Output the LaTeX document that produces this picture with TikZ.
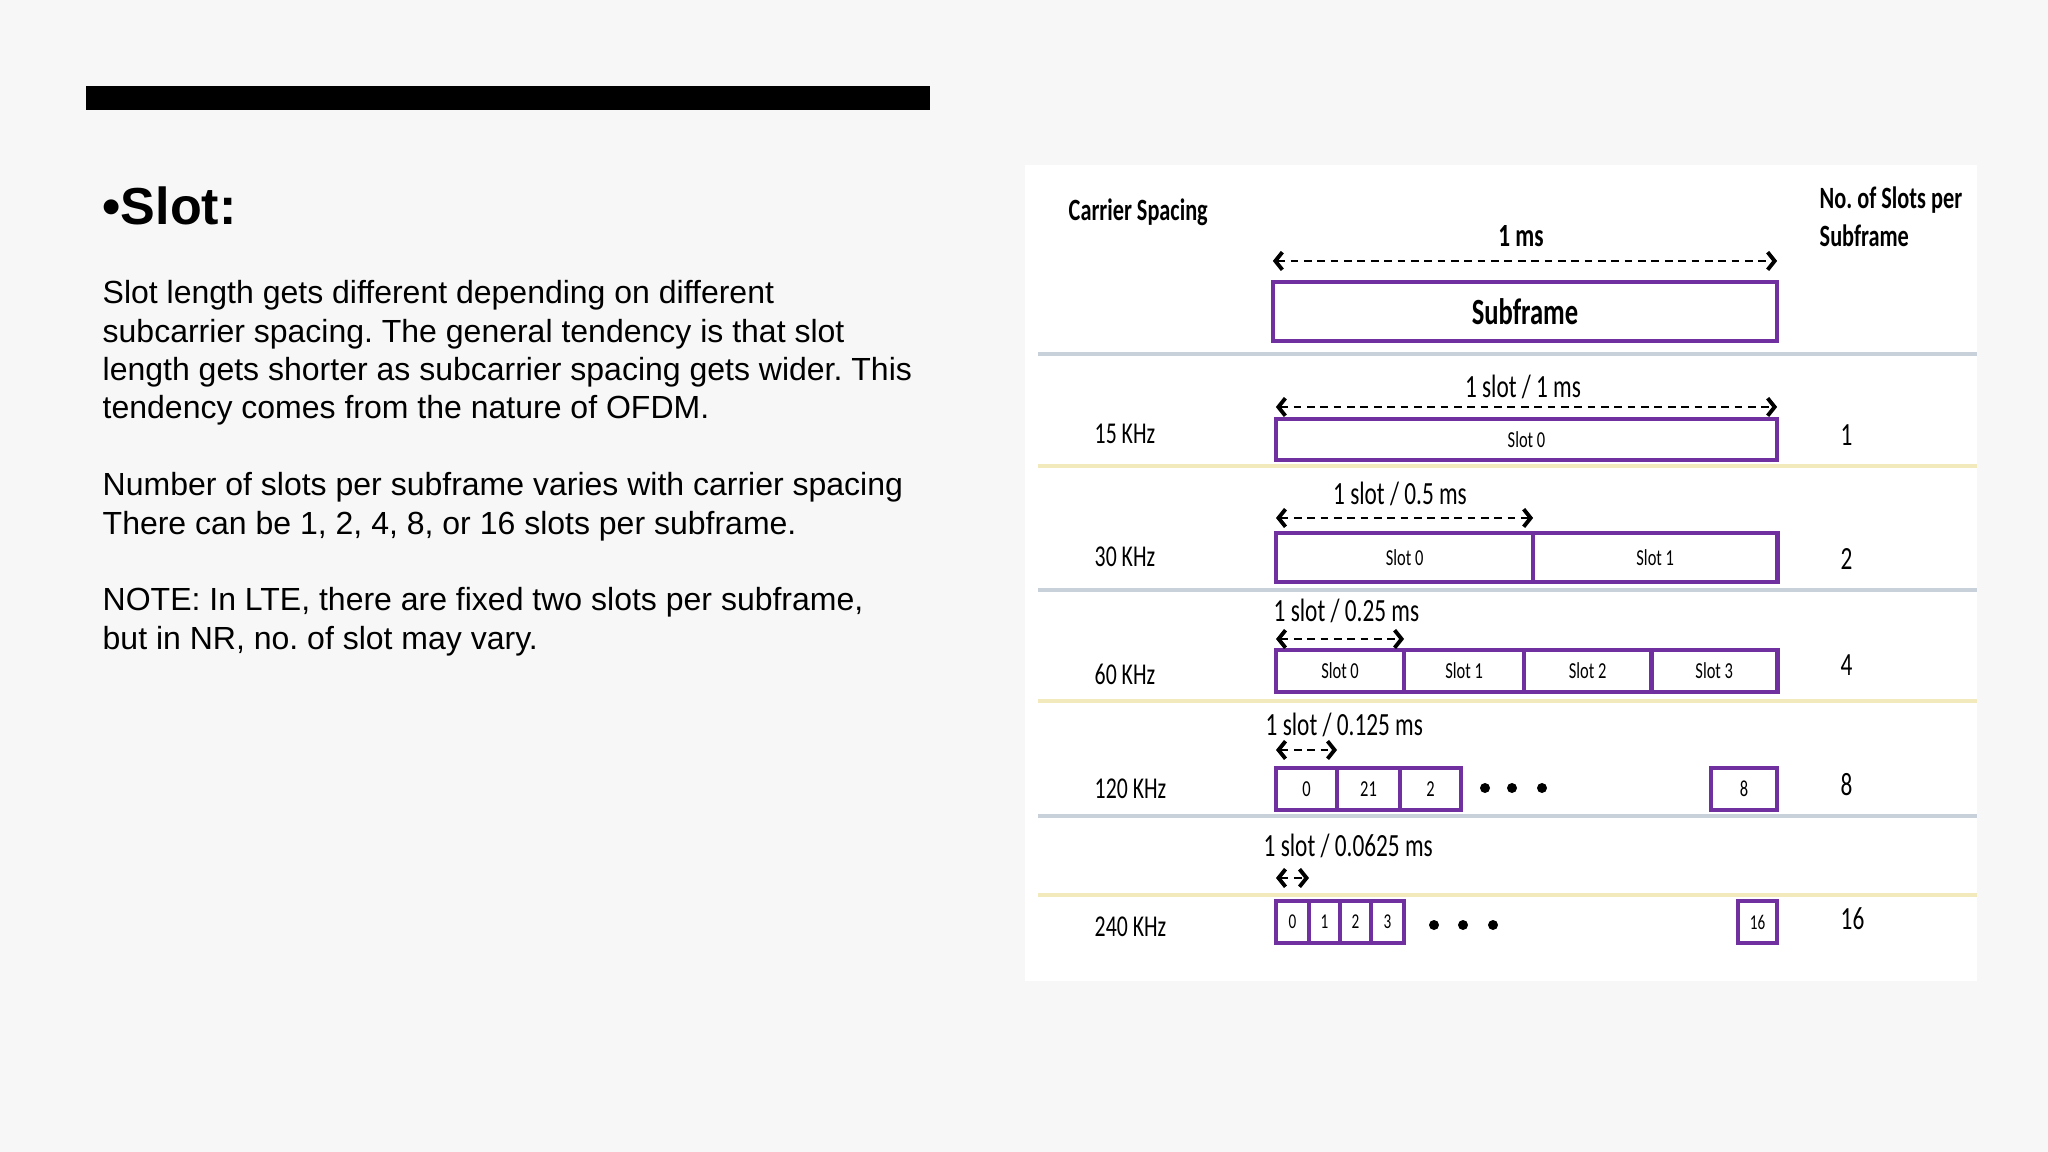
\documentclass[tikz,border=0pt]{standalone}
\usepackage{fontspec}
\setmainfont{Liberation Sans}
\newfontfamily\narrowfont[FakeStretch=0.72]{Carlito}
\usetikzlibrary{positioning, arrows.meta}
\frenchspacing

\definecolor{slidebg}{HTML}{F7F7F7}
\definecolor{slotpurple}{HTML}{7030A0}
\definecolor{rulegray}{HTML}{C8D0DA}
\definecolor{ruleyellow}{HTML}{F2E9BC}

\begin{document}
\begin{tikzpicture}[
        x=0.01cm, y=-0.01cm,
        node distance=0pt,
        slotbox/.style={draw=slotpurple, line width=1.3pt, fill=white, inner sep=0pt, outer sep=0pt, minimum height=0.42cm, font=\narrowfont\fontsize{6.5}{7}\selectfont},
        slotspan/.style={dashed, dash pattern=on 2.2pt off 1.6pt, line width=0.8pt, {Straight Barb[length=2pt,width=5pt,line width=1.1pt]}-{Straight Barb[length=2pt,width=5pt,line width=1.1pt]}},
        spanlabel/.style={inner sep=0pt, font=\narrowfont\fontsize{9.2}{10}\selectfont},
        rowlabel/.style={anchor=west, inner sep=0pt, font=\narrowfont\fontsize{8.6}{10}\selectfont},
        countlabel/.style={anchor=west, inner sep=0pt, font=\narrowfont\fontsize{9.2}{10}\selectfont},
        bodytext/.style={anchor=north west, inner sep=0pt, align=left, font=\fontsize{9.1}{10.9}\selectfont}
        ]
        % Slide
        \fill[slidebg] (0,0) rectangle (2048,1152);
        \fill[black] (86,86) rectangle (930,110);
        \node (title) [anchor=base west, inner sep=0pt, font=\bfseries\fontsize{14.8}{18}\selectfont] at (102,225) {•Slot:};
        \node (para1) [bodytext] at (102,280) {Slot length gets different depending on different\\subcarrier spacing. The general tendency is that slot\\length gets shorter as subcarrier spacing gets wider. This\\tendency comes from the nature of OFDM.};
        \node (para2) [bodytext] at (102,472) {Number of slots per subframe varies with carrier spacing\\There can be 1, 2, 4, 8, or 16 slots per subframe.};
        \node (para3) [bodytext] at (102,587) {NOTE: In LTE, there are fixed two slots per subframe,\\but in NR, no. of slot may vary.};

        % Panel and rules
        \fill[white] (1025,165) rectangle (1977,981);
        \draw[rulegray, line width=1pt] (1038,354) -- (1977,354);
        \draw[ruleyellow, line width=1pt] (1038,466) -- (1977,466);
        \draw[rulegray, line width=1pt] (1038,590) -- (1977,590);
        \draw[ruleyellow, line width=1pt] (1038,701) -- (1977,701);
        \draw[rulegray, line width=1pt] (1038,816) -- (1977,816);
        \draw[ruleyellow, line width=1pt] (1038,895) -- (1977,895);

        % Headings
        \node (cshead) [anchor=west, inner sep=0pt, font=\narrowfont\bfseries\fontsize{8.8}{10}\selectfont] at (1068,212) {Carrier Spacing};
        \node (nohead) [anchor=west, inner sep=0pt, align=left, font=\narrowfont\bfseries\fontsize{8.8}{10.8}\selectfont] at (1819,217) {No. of Slots per\\Subframe};

        % Subframe
        \node (subframe) [slotbox, minimum width=5.04cm, minimum height=0.59cm, font=\narrowfont\bfseries\fontsize{10.5}{12}\selectfont] at (1525,311.5) {Subframe};
        \node (ms) [spanlabel, font=\narrowfont\bfseries\fontsize{9.2}{10}\selectfont] at (1521,236) {1 ms};

        % 15 KHz
        \node (khz15) [rowlabel] at (1094,434) {15 KHz};
        \node (s15a) [slotbox, minimum width=5.01cm, minimum height=0.41cm] at (1526.5,439.5) {Slot 0};
        \node (span15) [spanlabel] at (1523,387) {1 slot / 1 ms};
        \node (n15) [countlabel] at (1840,435) {1};

        % 30 KHz
        \node (khz30) [rowlabel] at (1094,557) {30 KHz};
        \node (s30a) [slotbox, anchor=west, minimum width=2.57cm, minimum height=0.49cm] at (1276,557.5) {Slot 0};
        \node (s30b) [slotbox, minimum width=2.44cm, minimum height=0.49cm, right=of s30a] {Slot 1};
        \node (span30) [spanlabel] at (1400,494) {1 slot / 0.5 ms};
        \node (n30) [countlabel] at (1840,559) {2};

        % 60 KHz
        \node (khz60) [rowlabel] at (1094,674) {60 KHz};
        \node (s60a) [slotbox, anchor=west, minimum width=1.28cm] at (1276,671) {Slot 0};
        \node (s60b) [slotbox, minimum width=1.20cm, right=of s60a] {Slot 1};
        \node (s60c) [slotbox, minimum width=1.27cm, right=of s60b] {Slot 2};
        \node (s60d) [slotbox, minimum width=1.26cm, right=of s60c] {Slot 3};
        \node (span60) [spanlabel, anchor=west] at (1273,611) {1 slot / 0.25 ms};
        \node (n60) [countlabel] at (1840,665) {4};

        % 120 KHz
        \node (khz120) [rowlabel] at (1094,789) {120 KHz};
        \node (s120a) [slotbox, anchor=west, minimum width=0.61cm] at (1276,789) {0};
        \node (s120b) [slotbox, minimum width=0.63cm, right=of s120a] {21};
        \node (s120c) [slotbox, minimum width=0.61cm, right=of s120b] {2};
        \node (s120z) [slotbox, anchor=east, minimum width=0.66cm] at (1777,789) {8};
        \node (span120) [spanlabel, anchor=west] at (1265,725) {1 slot / 0.125 ms};
        \node (n120) [countlabel] at (1840,785) {8};
        \fill (1485,788) circle[radius=0.05cm] (1512,788) circle[radius=0.05cm] (1542,788) circle[radius=0.05cm];

        % 240 KHz
        \node (khz240) [rowlabel] at (1094,927) {240 KHz};
        \node (s240a) [slotbox, anchor=west, minimum width=0.33cm, font=\narrowfont\fontsize{6}{7}\selectfont] at (1276,922) {0};
        \node (s240b) [slotbox, minimum width=0.31cm, font=\narrowfont\fontsize{6}{7}\selectfont, right=of s240a] {1};
        \node (s240c) [slotbox, minimum width=0.31cm, font=\narrowfont\fontsize{6}{7}\selectfont, right=of s240b] {2};
        \node (s240d) [slotbox, minimum width=0.33cm, font=\narrowfont\fontsize{6}{7}\selectfont, right=of s240c] {3};
        \node (s240z) [slotbox, anchor=east, minimum width=0.39cm, font=\narrowfont\fontsize{6}{7}\selectfont] at (1777,922) {16};
        \node (span240) [spanlabel, anchor=west] at (1263,846) {1 slot / 0.0625 ms};
        \node (n240) [countlabel] at (1840,919) {16};
        \fill (1434,925) circle[radius=0.05cm] (1463,925) circle[radius=0.05cm] (1493,925) circle[radius=0.05cm];

        % Span ends
        \coordinate (msL) at ([yshift=0.21cm]subframe.north west);
        \coordinate (msR) at ([yshift=0.21cm]subframe.north east);
        \coordinate (l15) at ([yshift=0.12cm]s15a.north west);
        \coordinate (r15) at ([yshift=0.12cm]s15a.north east);
        \coordinate (l30) at ([yshift=0.15cm]s30a.north west);
        \coordinate (r30) at ([yshift=0.15cm]s30a.north east);
        \coordinate (l60) at ([yshift=0.11cm]s60a.north west);
        \coordinate (r60) at ([yshift=0.11cm]s60a.north east);
        \coordinate (l120) at ([yshift=0.18cm]s120a.north west);
        \coordinate (r120) at ([yshift=0.18cm]s120a.north east);
        \coordinate (l240) at ([yshift=0.23cm]s240a.north west);
        \coordinate (r240) at ([yshift=0.23cm]s240a.north east);

        % Arrows
        \draw[slotspan] (msL) -- (msR);
        \draw[slotspan] (l15) -- (r15);
        \draw[slotspan] (l30) -- (r30);
        \draw[slotspan] (l60) -- (r60);
        \draw[slotspan] (l120) -- (r120);
        \draw[slotspan] (l240) -- (r240);
    \end{tikzpicture}
\end{document}
